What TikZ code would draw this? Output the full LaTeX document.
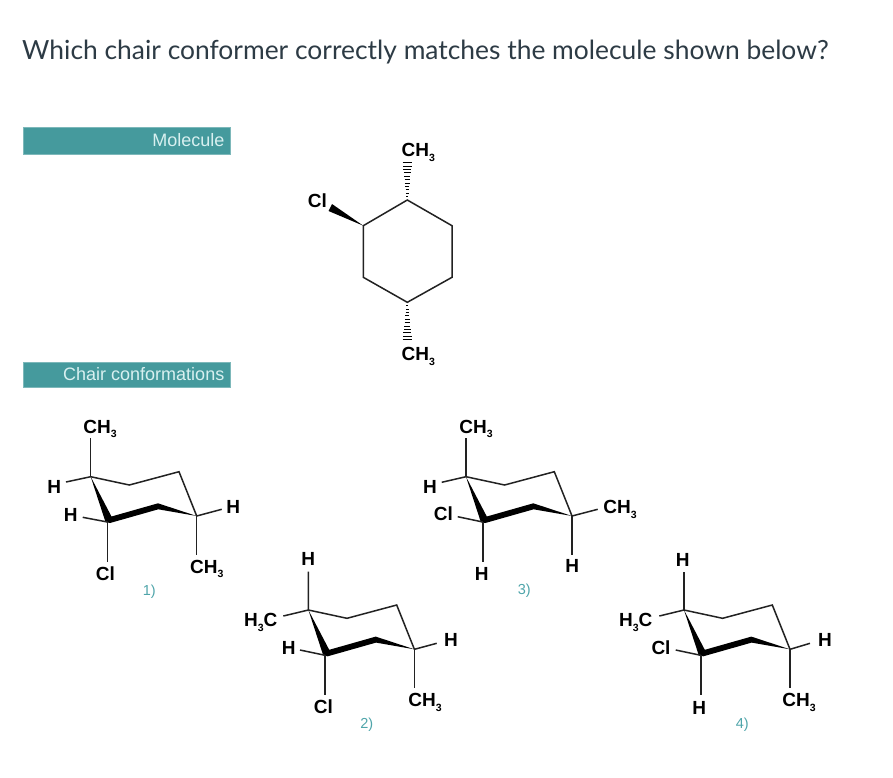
\documentclass[tikz,border=0pt]{standalone}
\usepackage{fontspec}
\setmainfont{Liberation Sans}
\newfontfamily\titlefont{Lato}
\definecolor{teal1}{HTML}{459A9D}
\definecolor{tealtxt}{HTML}{D8F0F0}
\definecolor{teallab}{HTML}{4FA5AA}
\definecolor{titlecol}{HTML}{2D3B45}
\definecolor{bondcol}{HTML}{222222}
\newcommand{\subthree}{\smash{\raisebox{-4.5pt}{\fontsize{10.5}{10.5}\selectfont 3}}}
\newcommand{\CHthree}{CH\subthree}
\newcommand{\HthreeC}{H\subthree C}
\tikzset{
  bondline/.style={draw=bondcol,line width=1.5pt,line join=miter},
  atomlabel/.style={inner sep=0pt,text=black,text height=13pt,text depth=0pt,font=\fontsize{19}{19}\selectfont\bfseries},
  numlabel/.style={inner sep=0pt,text=teallab,font=\fontsize{14.5}{14.5}\selectfont},
  barbox/.style={fill=teal1,draw=teal1!70!white,line width=0.6pt},
  bartext/.style={inner sep=0pt,text=tealtxt,anchor=base east,font=\fontsize{18}{18}\selectfont}
}
% chair: prefix, dx, dy
\newcommand{\chairring}[3]{%
  \begin{scope}[shift={(#2,#3)}]
    \coordinate (#1A) at (90.7,476.7);
    \coordinate (#1B) at (129.3,485);
    \coordinate (#1C) at (179,471.7);
    \coordinate (#1D) at (196.7,516);
    \coordinate (#1E) at (158.3,506);
    \coordinate (#1F) at (107.5,522);
    \draw[bondline] (#1A) -- (#1B) -- (#1C) -- (#1D);
    \fill[black] (#1A) -- (105.5,522) -- (110,523) -- (158.3,509.3) -- (#1D)
       -- (158,503.3) -- (111.5,516.5) -- cycle;
  \end{scope}}
% substituent: atom, name, bond end, label centre, text
\newcommand{\substit}[5]{%
  \node[atomlabel] (#2) at (#4) {#5};
  \coordinate (#2end) at (#3);
  \draw[bondline] (#1) -- (#2end);}
\begin{document}
\begin{tikzpicture}[x=1pt,y=-1pt]
\useasboundingbox (0,0) rectangle (893,777);
\fill[white] (0,0) rectangle (893,777);
\node[anchor=base west,inner sep=0pt,text=titlecol,font=\titlefont\fontsize{26.4}{26.4}\selectfont] (title) at (22,59)
  {Which chair conformer correctly matches the molecule shown below?};
% bars
\node[barbox,minimum width=207pt,minimum height=27pt,inner sep=0pt] (molbar) at (126.5,140.5) {};
\node[bartext] (moltxt) at (224.5,146.5) {Molecule};
\node[barbox,minimum width=207pt,minimum height=25pt,inner sep=0pt] (chbar) at (126.5,374.5) {};
\node[bartext] (chtxt) at (224.5,380) {Chair conformations};
% molecule
\coordinate (mT) at (407.3,200);
\coordinate (mTR) at (452,225.7);
\coordinate (mBR) at (452,277.3);
\coordinate (mB) at (407.3,302.3);
\coordinate (mBL) at (363.3,277.3);
\coordinate (mTL) at (363.3,225.7);
\draw[bondline] (mT) -- (mTR) -- (mBR) -- (mB) -- (mBL) -- (mTL) -- cycle;
\node[atomlabel] (mCl) at (317.3,201) {Cl};
\node[atomlabel] (mCHa) at (418.3,150) {\CHthree};
\node[atomlabel] (mCHb) at (418.3,354.3) {\CHthree};
\fill[black] (mTL) -- (328.5,211) -- (332,204) -- cycle;
\foreach \i in {1,...,11}{
  \pgfmathsetmacro{\w}{0.6+0.36*\i}
  \pgfmathsetmacro{\yy}{200-3.4*\i}
  \draw[black,line width=1pt] (407.3-\w,\yy) -- (407.3+\w,\yy);
  \pgfmathsetmacro{\yyb}{302.3+3.4*\i}
  \draw[black,line width=1pt] (407.3-\w,\yyb) -- (407.3+\w,\yyb);
}
% chair 1
\chairring{a}{0}{0}
\substit{aA}{a1}{90.7,438}{100,426.7}{\CHthree}
\substit{aA}{a2}{66,482}{54.3,486.7}{H}
\substit{aF}{a3}{82.7,517.3}{70.7,515}{H}
\substit{aF}{a4}{107.5,561.7}{105.3,574.3}{Cl}
\substit{aD}{a5}{221.7,509.3}{233.3,506.7}{H}
\substit{aD}{a6}{196.7,555}{206.7,566.7}{\CHthree}
\node[numlabel] (n1) at (149.3,591.7) {1)};
% chair 2
\chairring{b}{217.7}{133.3}
\substit{bA}{b1}{308.3,571.7}{308.3,559.3}{H}
\substit{bA}{b2}{283.3,616}{260.7,620}{\HthreeC}
\substit{bF}{b3}{300,650}{288.7,648.3}{H}
\substit{bF}{b4}{325.2,695}{323.3,707.3}{Cl}
\substit{bD}{b5}{436.7,643.3}{451,640}{H}
\substit{bD}{b6}{414.4,688.3}{425,700}{\CHthree}
\node[numlabel] (n2) at (366.7,724.3) {2)};
% chair 3
\chairring{c}{375.3}{0}
\substit{cA}{c1}{466,438.3}{476,426.7}{\CHthree}
\substit{cA}{c2}{441.7,482.3}{430,486.7}{H}
\substit{cF}{c3}{457.7,516.7}{443.3,514}{Cl}
\substit{cF}{c4}{482.8,561.7}{481.7,574.3}{H}
\substit{cD}{c5}{597.7,509.3}{620,507.3}{\CHthree}
\substit{cD}{c6}{572,555}{572.3,566}{H}
\node[numlabel] (n3) at (524.3,591) {3)};
% chair 4
\chairring{d}{593.3}{133.3}
\substit{dA}{d1}{684,571.7}{682.7,560}{H}
\substit{dA}{d2}{659.3,616}{635.7,620}{\HthreeC}
\substit{dF}{d3}{675.7,650}{661,647.7}{Cl}
\substit{dF}{d4}{700.8,695}{699.3,707.7}{H}
\substit{dD}{d5}{810,643.3}{825,640}{H}
\substit{dD}{d6}{790,688.3}{799,700}{\CHthree}
\node[numlabel] (n4) at (742.3,724.3) {4)};
\end{tikzpicture}
\end{document}
